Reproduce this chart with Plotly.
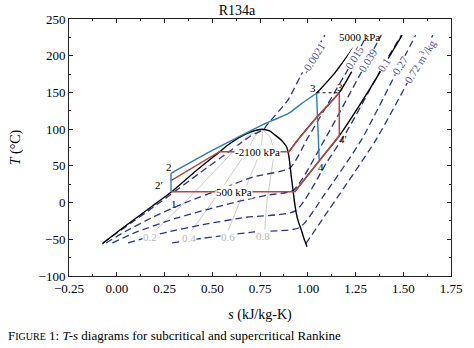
import plotly.graph_objects as go

# ---------------- data ----------------
dome_s = [-0.075, 0.003, 0.107, 0.211, 0.284, 0.40, 0.538, 0.58, 0.64, 0.70, 0.761,
          0.80, 0.829, 0.862, 0.889, 0.900, 0.906, 0.914, 0.923, 0.930, 0.940, 0.952, 0.966, 0.980, 0.996]
dome_T = [-56, -40, -20, 0, 14, 40, 69, 78, 88.5, 96, 99.8,
          97.5, 92, 85, 76, 65, 53.5, 35, 17, 2, -14.6, -27, -37, -49, -60]

# isochores (dashed)
v0021_s = [-0.073, 0.225, 0.433, 0.591, 0.697, 0.77, 0.787, 0.897, 0.966, 1.09]
v0021_T = [-55, 0, 40, 70, 90, 100, 106, 140, 174, 228]
v015_s = [-0.056, 0.041, 0.188, 0.36, 0.561, 0.714, 0.906, 1.0, 1.247, 1.31]
v015_T = [-55, -40, -20, 0, 20, 35, 47, 88, 197.7, 228]
v039_s = [-0.023, 0.105, 0.327, 0.613, 0.786, 0.925, 1.087, 1.315, 1.385]
v039_T = [-55, -40, -20, 0, 10, 17, 85, 194.3, 228]
v1_s = [0.059, 0.191, 0.269, 0.451, 0.677, 0.937, 1.10, 1.20, 1.397, 1.49]
v1_T = [-55, -45, -40, -30, -20, -11, 55, 95, 187.5, 228]
v27_s = [0.29, 0.41, 0.559, 0.72, 0.957, 1.085, 1.28, 1.484, 1.565]
v27_T = [-55, -50, -45, -40, -34, 10, 85, 187.5, 228]
v72_s = [0.99, 1.085, 1.356, 1.581, 1.655]
v72_T = [-56, -19.6, 85, 192, 228]
iso_labels = ["-0.0021", "0.015", "0.039", "0.1", "0.27", "0.72 m<sup>3</sup>/kg"]
iso_label_s = [1.03, 1.247, 1.315, 1.397, 1.484, 1.585]
iso_label_T = [197, 197.7, 194.3, 187.5, 187.5, 193]

# quality lines (grey)
q_T = [-42, 0, 40, 70, 90, 99.8]
q2_s = [0.186, 0.354, 0.502, 0.611, 0.684, 0.761]
q4_s = [0.382, 0.498, 0.604, 0.681, 0.723, 0.761]
q6_s = [0.578, 0.642, 0.706, 0.752, 0.762, 0.761]
q8_s = [0.774, 0.786, 0.809, 0.822, 0.801, 0.761]
q_labels = ["0.2", "0.4", "0.6", "0.8"]
q_label_s = [0.175, 0.38, 0.584, 0.768]
q_label_T = [-47, -48, -47, -46]

# isobars (black)
p5000_s = [1.046, 1.14, 1.238]
p5000_T = [148.9, 176, 210.6]
p2100_s = [0.902, 0.95, 1.05, 1.165, 1.23]
p2100_T = [69.3, 86, 117, 149.7, 178.3]
p500_s = [0.932, 1.085, 1.165, 1.33, 1.494]
p500_T = [14.9, 64.9, 91, 157, 228]

# supercritical cycle (blue): 1 -> 2 (pump), 2 -> 3 (heating at 5000 kPa), 3 -> 4 (expansion)
pump_s = [0.284, 0.284]
pump_T = [14.9, 39.9]
heat_s = [0.284, 0.505, 0.659, 0.744, 0.812, 0.897, 0.966, 1.046]
heat_T = [39.9, 71.7, 92.1, 103.4, 111.5, 121, 134.5, 148.9]
expand_s = [1.046, 1.06]
expand_T = [148.9, 58]
# subcritical cycle (red): 2' -> sat liq -> sat vap -> 3' -> 4' -> sat vap -> 1
red_s = [0.284, 0.538, 0.902, 0.95, 1.05, 1.165, 1.165, 1.085, 0.932, 0.284]
red_T = [29.8, 69.3, 69.3, 86, 117, 149.7, 91, 64.9, 14.9, 14.9]
dot_s = [1.046, 1.165]
dot_T = [149.5, 149.5]

pt_labels = ["1", "2", "2\u2032", "3", "3\u2032", "4", "4\u2032"]
pt_s = [0.30, 0.272, 0.222, 1.029, 1.172, 1.068, 1.182]
pt_T = [-2, 49, 24, 156, 158, 49, 87]

# ---------------- figure ----------------
FONT = "Liberation Serif"
NAVY = "#2c3585"
LBL = "#4b4f9c"
BLUE = "#2f7bb8"
RED = "#b04b46"
GREY = "#c4c4c4"

fig = go.Figure()

def line(s, T, color, width=1.3, dash=None, shape="linear"):
    fig.add_trace(go.Scatter(x=s, y=T, mode="lines", hoverinfo="skip", showlegend=False,
                             line=dict(color=color, width=width, dash=dash, shape=shape,
                                       smoothing=0.6)))

for qs in (q2_s, q4_s, q6_s, q8_s):
    line(qs, q_T, GREY, 0.9, shape="spline")

for vs, vT in ((v0021_s, v0021_T), (v015_s, v015_T), (v039_s, v039_T),
               (v1_s, v1_T), (v27_s, v27_T), (v72_s, v72_T)):
    line(vs, vT, NAVY, 1.3, dash="7px,4px", shape="spline")

line(dome_s, dome_T, "black", 1.4, shape="spline")
line(p5000_s, p5000_T, "black", 1.4, shape="spline")
line(p2100_s, p2100_T, "black", 1.4, shape="spline")
line(p500_s, p500_T, "black", 1.4, shape="spline")
line(dot_s, dot_T, "black", 1.1, dash="dot")
line(red_s, red_T, RED, 1.5)
line(pump_s, pump_T, BLUE, 1.4)
line(heat_s, heat_T, BLUE, 1.4, shape="spline")
line(expand_s, expand_T, BLUE, 1.4)

ann = []
for t, s, T in zip(iso_labels, iso_label_s, iso_label_T):
    ann.append(dict(x=s, y=T, text=t, showarrow=False, textangle=-58,
                    font=dict(family=FONT, size=11, color=LBL), bgcolor="white", borderpad=0))
for t, s, T in zip(q_labels, q_label_s, q_label_T):
    ann.append(dict(x=s, y=T, text=t, showarrow=False,
                    font=dict(family=FONT, size=11, color="#b8b8b8"), bgcolor="white", borderpad=0))
for t, s, T in zip(pt_labels, pt_s, pt_T):
    ann.append(dict(x=s, y=T, text=t, showarrow=False,
                    font=dict(family=FONT, size=11, color="black")))
ann.append(dict(x=1.27, y=226, text="5000 kPa", showarrow=False,
                font=dict(family=FONT, size=11, color="black")))
ann.append(dict(x=0.737, y=68.5, text="-2100 kPa", showarrow=False,
                font=dict(family=FONT, size=11, color="black"), bgcolor="white", borderpad=0))
ann.append(dict(x=0.612, y=14, text="500 kPa", showarrow=False,
                font=dict(family=FONT, size=11, color="black"), bgcolor="white", borderpad=0))
ann.append(dict(xref="paper", yref="paper", x=-0.165, y=-0.268, xanchor="left", yanchor="bottom",
                text="F<span style='font-size:10px'>IGURE</span> 1: <i>T-s</i> diagrams for subcritical and supercritical Rankine",
                showarrow=False, font=dict(family=FONT, size=13, color="black")))

axis_common = dict(showline=True, linecolor="#222", linewidth=1, mirror="ticks",
                   ticks="inside", ticklen=4, tickcolor="#222", showgrid=False, zeroline=False,
                   tickfont=dict(family=FONT, size=13, color="black"))

fig.update_layout(
    width=474, height=348,
    margin=dict(l=69, r=14, t=19, b=72),
    paper_bgcolor="white", plot_bgcolor="white",
    title=dict(text="R134a", x=0.5, xanchor="center", y=0.985, yanchor="top",
               font=dict(family=FONT, size=14, color="black")),
    xaxis=dict(range=[-0.25, 1.75], dtick=0.25, tick0=-0.25, tickformat=".2f",
               title=dict(text="<i>s</i> (kJ/kg-K)", standoff=14,
                          font=dict(family=FONT, size=14, color="black")),
               minor=dict(ticks="inside", ticklen=2, dtick=0.125, tickcolor="#222"),
               **axis_common),
    yaxis=dict(range=[-100, 250], dtick=50,
               title=dict(text="<i>T</i> (°C)", standoff=14,
                          font=dict(family=FONT, size=14, color="black")),
               minor=dict(ticks="inside", ticklen=2, dtick=25, tickcolor="#222"),
               **axis_common),
    annotations=ann,
)

fig.write_html("out.html")
